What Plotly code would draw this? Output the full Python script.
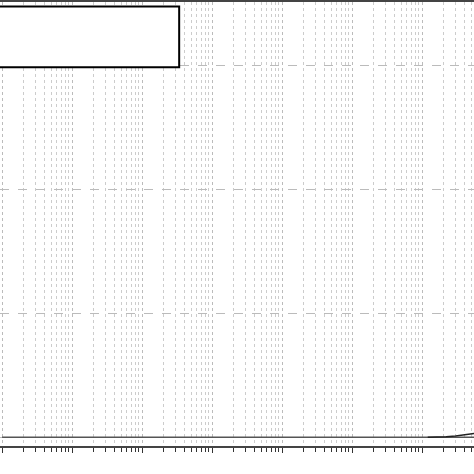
import plotly.graph_objects as go

# data (log x, curve only at the far right)
x_vals = [1.2e6, 1.6e6, 2.2e6, 3.0e6, 4.0e6, 5.5e6]
y_vals = [0.0, 0.0, 0.005, 0.01, 0.02, 0.03]
zero_x = [1, 6e6]
zero_y = [0, 0]

fig = go.Figure()
fig.add_trace(go.Scatter(x=zero_x, y=zero_y, mode="lines",
                         line=dict(color="#555", width=1.5), showlegend=False))
fig.add_trace(go.Scatter(x=x_vals, y=y_vals, mode="lines",
                         line=dict(color="#222", width=1.5), showlegend=False))

fig.add_shape(type="rect", xref="paper", yref="paper", x0=-0.01, x1=0.378, y0=0.853, y1=0.99,
              line=dict(color="black", width=2), fillcolor="white")

fig.update_layout(
    width=474, height=474, margin=dict(l=0, r=0, t=2, b=28),
    plot_bgcolor="white", paper_bgcolor="white",
    xaxis=dict(type="log", range=[-0.03, 6.74], showticklabels=False,
               ticks="outside", ticklen=5, tickcolor="#333", dtick=1,
               showgrid=True, gridcolor="#bbb", griddash="dot", gridwidth=1,
               minor=dict(ticks="outside", ticklen=4, tickcolor="#333", dtick="D1",
                          showgrid=True, gridcolor="#ccc", griddash="dot"),
               showline=True, linecolor="#444", linewidth=1.5, mirror=True, zeroline=False),
    yaxis=dict(range=[-0.07, 3.51], dtick=1, showticklabels=False, ticks="",
               showgrid=True, gridcolor="#bbb", griddash="dash", zeroline=False,
               showline=True, linecolor="#444", mirror=True),
)
fig.write_html("out.html", config={"displayModeBar": False},
               post_script="document.body.style.margin='0';")
